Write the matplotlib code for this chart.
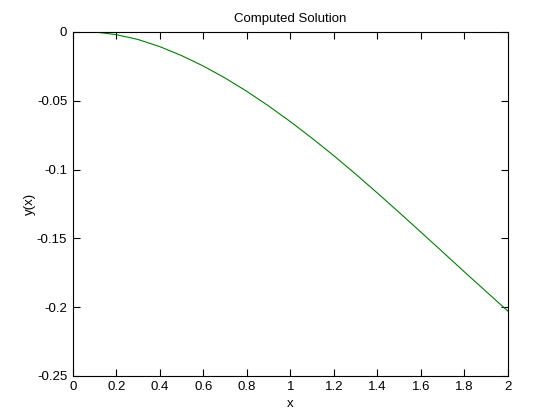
import matplotlib
matplotlib.use("Agg")
import matplotlib.pyplot as plt

# values
x = [0.1, 0.2, 0.3, 0.4, 0.5, 0.6, 0.7, 0.8, 0.9, 1.0,
     1.1, 1.2, 1.3, 1.4, 1.5, 1.6, 1.7, 1.8, 1.9, 2.0]
y = [0.0, -0.0020, -0.0055, -0.0107, -0.0172, -0.0248, -0.0335, -0.0432, -0.0538, -0.0652,
     -0.0773, -0.0900, -0.1033, -0.1171, -0.1312, -0.1455, -0.1599, -0.1744, -0.1887, -0.2029]

xticks = [0, 0.2, 0.4, 0.6, 0.8, 1, 1.2, 1.4, 1.6, 1.8, 2]
xlabels = ["0", "0.2", "0.4", "0.6", "0.8", "1", "1.2", "1.4", "1.6", "1.8", "2"]
yticks = [0, -0.05, -0.1, -0.15, -0.2, -0.25]
ylabels = ["0", "-0.05", "-0.1", "-0.15", "-0.2", "-0.25"]

plt.rcParams['font.family'] = ['Liberation Sans', 'DejaVu Sans']
plt.rcParams['font.size'] = 9.5

fig = plt.figure(figsize=(5.6, 4.2), dpi=100)
ax = fig.add_axes([0.13, 0.105, 0.777, 0.819])
ax.plot(x, y, color='#008000', lw=0.8)

ax.set_xlim(0, 2)
ax.set_ylim(-0.25, 0)
ax.set_xticks(xticks)
ax.set_xticklabels(xlabels)
ax.set_yticks(yticks)
ax.set_yticklabels(ylabels)
ax.tick_params(direction='in', top=True, right=True, length=5, width=0.8, pad=4)
for s in ax.spines.values():
    s.set_linewidth(0.8)

ax.set_title("Computed Solution", fontsize=9.5, pad=7)
ax.set_xlabel("x", labelpad=3)
ax.set_ylabel("y(x)", labelpad=1)

fig.savefig("out.png", dpi=100)
